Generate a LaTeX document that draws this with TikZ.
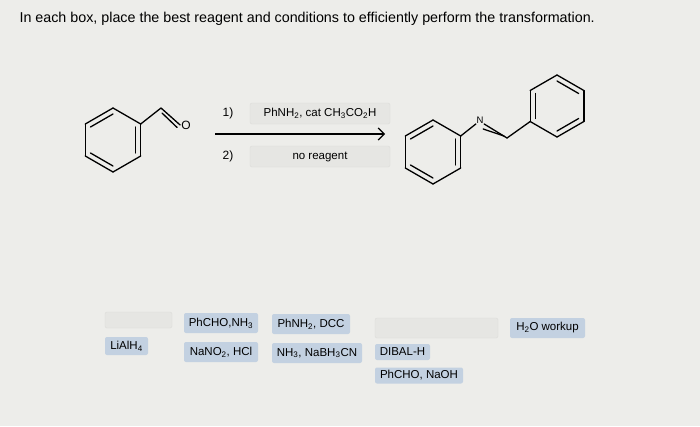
\documentclass[tikz,border=0pt]{standalone}
\usepackage{fontspec}
\setmainfont{Liberation Sans}
\usetikzlibrary{calc,arrows.meta}
\begin{document}
\begin{tikzpicture}[x=1pt,y=-1pt,
  chip/.style={fill=chipc,rounded corners=2pt,inner sep=0pt,font=\fontsize{11.5}{13}\selectfont},
  slot/.style={fill=slotc,rounded corners=2pt,draw=slotb,line width=0.4pt},
  bond/.style={line width=1.3pt,line cap=round,line join=round}]
\definecolor{bgc}{HTML}{EDEDEA}
\definecolor{chipc}{HTML}{C3D1E1}
\definecolor{slotc}{HTML}{E6E6E3}
\definecolor{slotb}{HTML}{DCDCD9}
\fill[bgc] (0,0) rectangle (700,426);
\useasboundingbox (0,0) rectangle (700,426);
\node[anchor=west,font=\fontsize{14.3}{16}\selectfont] (title) at (16,19) {In each box, place the best reagent and conditions to efficiently perform the transformation.};
% benzaldehyde
\begin{scope}[shift={(113,140)}]
\foreach \a in {30,90,...,330}{\draw[bond] (\a:32) -- (\a+60:32);}
\draw[bond] (90:26) -- (150:26);
\draw[bond] (210:26) -- (270:26);
\draw[bond] (330:26) -- (30:26);
\end{scope}
\coordinate (c1) at (140.7,124);
\coordinate (cho) at (161,108);
\node[font=\fontsize{12}{13}\selectfont,inner sep=1pt] (O) at (186,125) {O};
\draw[bond] (c1) -- (cho);
\draw[bond] (cho) -- (O.west);
\draw[bond] ($(cho)+(1,5)$) -- ($(O.west)+(-3,2.5)$);
% arrow
\coordinate (as) at (215,134);
\coordinate (ae) at (385,134);
\draw[line width=1.2pt,-{Straight Barb[length=6pt]}] (as) -- (ae);
\node[font=\fontsize{12}{14}\selectfont] (n1) at (228,113) {1)};
\node[font=\fontsize{12}{14}\selectfont] (n2) at (228,156) {2)};
\draw[slot] (250,103) rectangle (390,124);
\node[font=\fontsize{11.5}{13}\selectfont] (r1) at (320,113.5) {PhNH\textsubscript{2}, cat CH\textsubscript{3}CO\textsubscript{2}H};
\draw[slot] (250,146) rectangle (390,167);
\node[font=\fontsize{11.5}{13}\selectfont] (r2) at (320,156.5) {no reagent};
% product
\begin{scope}[shift={(433,152)}]
\foreach \a in {30,90,...,330}{\draw[bond] (\a:32) -- (\a+60:32);}
\draw[bond] (90:26) -- (150:26);
\draw[bond] (210:26) -- (270:26);
\draw[bond] (330:26) -- (30:26);
\end{scope}
\begin{scope}[shift={(557,106)}]
\foreach \a in {30,90,...,330}{\draw[bond] (\a:31) -- (\a+60:31);}
\draw[bond] (90:25) -- (30:25);
\draw[bond] (150:25) -- (210:25);
\draw[bond] (270:25) -- (330:25);
\end{scope}
\coordinate (p1) at (460.7,136);
\node[font=\fontsize{9.5}{10}\selectfont,inner sep=0.5pt] (N) at (480,120) {N};
\coordinate (pc) at (507,138);
\coordinate (p2) at (530.2,121.5);
\draw[bond] (p1) -- (N.south west);
\draw[bond] (N.south east) -- (pc);
\draw[bond] ($(N.south east)+(-1,5)$) -- ($(pc)+(-3,-2)$);
\draw[bond] (pc) -- (p2);
% slots and chips
\draw[slot] (105,312) rectangle (172,328);
\draw[slot] (375,318) rectangle (498,338);
\node[chip,minimum width=43pt,minimum height=18pt] (c1n) at (126.5,346) {LiAlH\textsubscript{4}};
\node[chip,minimum width=74pt,minimum height=20pt] (c2n) at (221,323) {PhCHO,NH\textsubscript{3}};
\node[chip,minimum width=74pt,minimum height=20pt] (c3n) at (221,352) {NaNO\textsubscript{2}, HCl};
\node[chip,minimum width=78pt,minimum height=20pt] (c4n) at (311,324) {PhNH\textsubscript{2}, DCC};
\node[chip,minimum width=90pt,minimum height=20pt] (c5n) at (317,353) {NH\textsubscript{3}, NaBH\textsubscript{3}CN};
\node[chip,minimum width=55pt,minimum height=16pt] (c6n) at (402.5,352) {DIBAL-H};
\node[chip,minimum width=88pt,minimum height=16pt] (c7n) at (419,375.5) {PhCHO, NaOH};
\node[chip,minimum width=75pt,minimum height=20pt] (c8n) at (547.5,328) {H\textsubscript{2}O workup};
\end{tikzpicture}
\end{document}
